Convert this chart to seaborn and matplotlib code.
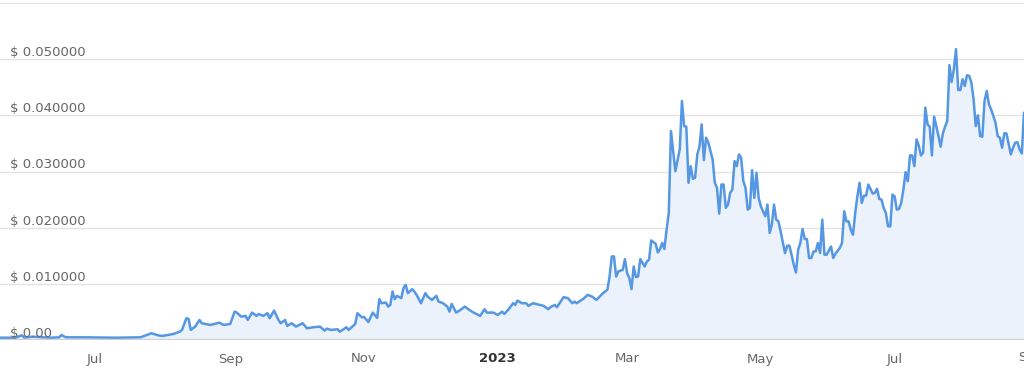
import numpy as np
import pandas as pd
import matplotlib
matplotlib.use("Agg")
import matplotlib.pyplot as plt
import matplotlib.transforms as mtransforms
import seaborn as sns

# ---------------- data ----------------
START = "2022-05-19"  # first day shown on the chart
days = [
    0, 7, 10, 11, 15, 23, 27, 28, 30, 38, 53, 64, 67, 69, 72, 74, 79, 82, 83, 85,
    86, 87, 89, 91, 92, 96, 100, 102, 105, 107, 108, 110, 112, 113, 115, 117, 118, 120, 122, 123,
    125, 127, 128, 130, 131, 133, 135, 138, 140, 143, 146, 148, 149, 151, 154, 155, 158, 159, 162, 163,
    165, 166, 168, 170, 172, 173, 174, 176, 177, 178, 179, 180, 181, 183, 184, 185, 186, 188, 189, 190,
    192, 194, 195, 197, 199, 200, 202, 204, 205, 206, 208, 210, 212, 214, 216, 219, 221, 222, 225, 227,
    229, 230, 232, 234, 235, 236, 238, 240, 241, 243, 246, 248, 250, 251, 253, 254, 257, 259, 261, 262,
    263, 266, 268, 270, 272, 275, 277, 278, 279, 280, 281, 282, 284, 285, 286, 287, 288, 289, 290, 291,
    292, 294, 295, 296, 297, 299, 300, 301, 302, 303, 304, 305, 306, 308, 310, 311, 312, 313, 314, 315,
    316, 317, 318, 319, 320, 321, 322, 323, 325, 326, 327, 328, 329, 330, 331, 332, 333, 334, 335, 336,
    337, 338, 339, 340, 341, 342, 343, 344, 345, 346, 347, 349, 350, 351, 352, 353, 354, 355, 356, 358,
    359, 360, 361, 362, 363, 364, 365, 366, 367, 368, 369, 370, 371, 372, 373, 374, 375, 376, 377, 379,
    380, 381, 383, 384, 385, 386, 387, 388, 389, 390, 391, 392, 393, 394, 395, 396, 398, 399, 400, 401,
    402, 403, 404, 405, 406, 407, 408, 409, 410, 411, 412, 413, 414, 415, 416, 417, 418, 419, 420, 421,
    422, 423, 424, 425, 426, 427, 428, 429, 430, 431, 432, 433, 434, 435, 436, 437, 438, 439, 440, 441,
    442, 443, 444, 445, 446, 447, 448, 449, 450, 451, 452, 454, 455, 456, 457, 458, 459, 461, 462, 463,
    464, 465, 466, 467,
]
price = [
    .00041, .00041, .00084, .00043, .00059, .00041, .00048, .00089, .00048, .00048,
    .00041, .00048, .00089, .0012, .00084, .00071, .00107, .00148, .00179, .00388,
    .00375, .00179, .00238, .00357, .00298, .00268, .00309, .00268, .00286, .00505,
    .00488, .00416, .00429, .00357, .00488, .00429, .00464, .00429, .00477, .00388,
    .00523, .00357, .00298, .00357, .0025, .00298, .00238, .00298, .00209, .00227,
    .00238, .00166, .00202, .00179, .00191, .00148, .00227, .00179, .00286, .00477,
    .00405, .00411, .00321, .00488, .00393, .00727, .00655, .00666, .00595, .00625,
    .00863, .00727, .00786, .00745, .00923, .00982, .00834, .00905, .00863, .00804,
    .00655, .00834, .00773, .00714, .00786, .00684, .00655, .00595, .00505, .00643,
    .00488, .00536, .00595, .00536, .00488, .00429, .00548, .00488, .00488, .00446,
    .00505, .00464, .00548, .00655, .00625, .00702, .00655, .00655, .00607, .00655,
    .00625, .00607, .00548, .00584, .00625, .00584, .00763, .00745, .00655, .00684,
    .00655, .00732, .00804, .00773, .00714, .00834, .00893, .0113, .01488, .01488,
    .0113, .0122, .0125, .01441, .01191, .01102, .00905, .01309, .0112, .0113,
    .01441, .01309, .01398, .01429, .01773, .01714, .01559, .0162, .01727, .0162,
    .01964, .02262, .0372, .03005, .03393, .04255, .03809, .03798, .02798, .03095,
    .0287, .02888, .03304, .03441, .03839, .03202, .03602, .03518, .03214, .02798,
    .02709, .0225, .02768, .02768, .02352, .02411, .0262, .02679, .03184, .03095,
    .03304, .03245, .02827, .02709, .02321, .02352, .03023, .0253, .02977, .0253,
    .0238, .02202, .02411, .01905, .02054, .02411, .02143, .02113, .01934, .01548,
    .01679, .01679, .01518, .01339, .01202, .01607, .01727, .01977, .01798, .01798,
    .01459, .01459, .01577, .01577, .01727, .01548, .02143, .01518, .01518, .01666,
    .01459, .01536, .01638, .01727, .02291, .02113, .02113, .01964, .01875, .0225,
    .02559, .02798, .02441, .02571, .02571, .02768, .02607, .0262, .02691, .02513,
    .025, .02352, .02263, .02023, .02023, .02589, .02559, .02321, .02334, .02441,
    .02679, .02988, .02827, .03286, .03286, .03095, .03571, .03464, .03286, .03334,
    .04138, .03839, .03798, .03286, .03977, .03809, .0363, .03441, .03679, .03798,
    .03898, .04893, .04595, .04821, .05179, .04452, .04452, .04643, .04523, .04714,
    .04702, .04584, .04286, .03809, .04, .0363, .0362, .04255, .04434, .04196,
    .04107, .0387, .0363, .03602, .03423, .03679, .03679, .03304, .03423, .03513,
    .03523, .03393, .03321, .04048,
]
y_ticks = [0.0, 0.01, 0.02, 0.03, 0.04, 0.05, 0.06]
y_tick_labels = ["$ 0.00", "$ 0.010000", "$ 0.020000", "$ 0.030000",
                 "$ 0.040000", "$ 0.050000", ""]
x_tick_dates = ["2022-07-01", "2022-09-01", "2022-11-01", "2023-01-01",
                "2023-03-01", "2023-05-01", "2023-07-01", "2023-09-01"]
x_tick_labels = ["Jul", "Sep", "Nov", "2023", "Mar", "May", "Jul", "Sep"]

# ---------------- figure ----------------
sns.set_style("white")
plt.rcParams["font.family"] = ["DejaVu Sans"]

df = pd.DataFrame({
    "date": pd.Timestamp(START) + pd.to_timedelta(days, unit="D"),
    "price": price,
})

fig = plt.figure(figsize=(10.24, 3.72), dpi=100)
ax = fig.add_axes([0.0, 32 / 372, 1.0, 337 / 372])

LINE = "#5597e2"
FILL = "#ebf2fc"
GRID = "#e3e3e3"
TXT = "#666666"
FS = 9.5

ax.fill_between(df["date"], df["price"], 0, color=FILL, lw=0, zorder=1)
sns.lineplot(data=df, x="date", y="price", ax=ax, color=LINE, lw=1.8, zorder=3)

ax.set_xlim(df["date"].iloc[0], df["date"].iloc[-1])
ax.set_ylim(0, 0.06)

# horizontal gridlines
for v in y_ticks[1:]:
    ax.axhline(v, color=GRID, lw=1.0, zorder=0)
ax.axhline(0, color="#cfcfcf", lw=1.6, zorder=4)

# y labels drawn inside the plot, just above their gridline
trans = mtransforms.blended_transform_factory(ax.transAxes, ax.transData)
for v, lab in zip(y_ticks, y_tick_labels):
    if lab:
        ax.text(0.0098, v, lab, transform=trans, ha="left", va="bottom",
                fontsize=FS, color=TXT, zorder=5)
ax.set_yticks([])

for s in ax.spines.values():
    s.set_visible(False)

# x ticks
tick_dt = pd.to_datetime(x_tick_dates)
inside = [(d, l) for d, l in zip(tick_dt, x_tick_labels) if d <= df["date"].iloc[-1]]
ax.set_xticks([d for d, _ in inside])
ax.set_xticklabels([l for _, l in inside])
ax.tick_params(axis="x", length=0, pad=9, labelsize=FS, labelcolor=TXT)
for lab in ax.get_xticklabels():
    if lab.get_text() == "2023":
        lab.set_fontweight("bold")
        lab.set_color("#333333")
# ticks beyond the visible range (cut by the figure edge, like the reference)
xtrans = mtransforms.blended_transform_factory(ax.transData, ax.transAxes)
for d, l in zip(tick_dt, x_tick_labels):
    if d > df["date"].iloc[-1]:
        ax.text(d, -0.0525, l, transform=xtrans, ha="center", va="center",
                fontsize=FS, color=TXT, clip_on=False)
ax.set_xlabel("")
ax.set_ylabel("")

fig.savefig("out.png", dpi=100)
